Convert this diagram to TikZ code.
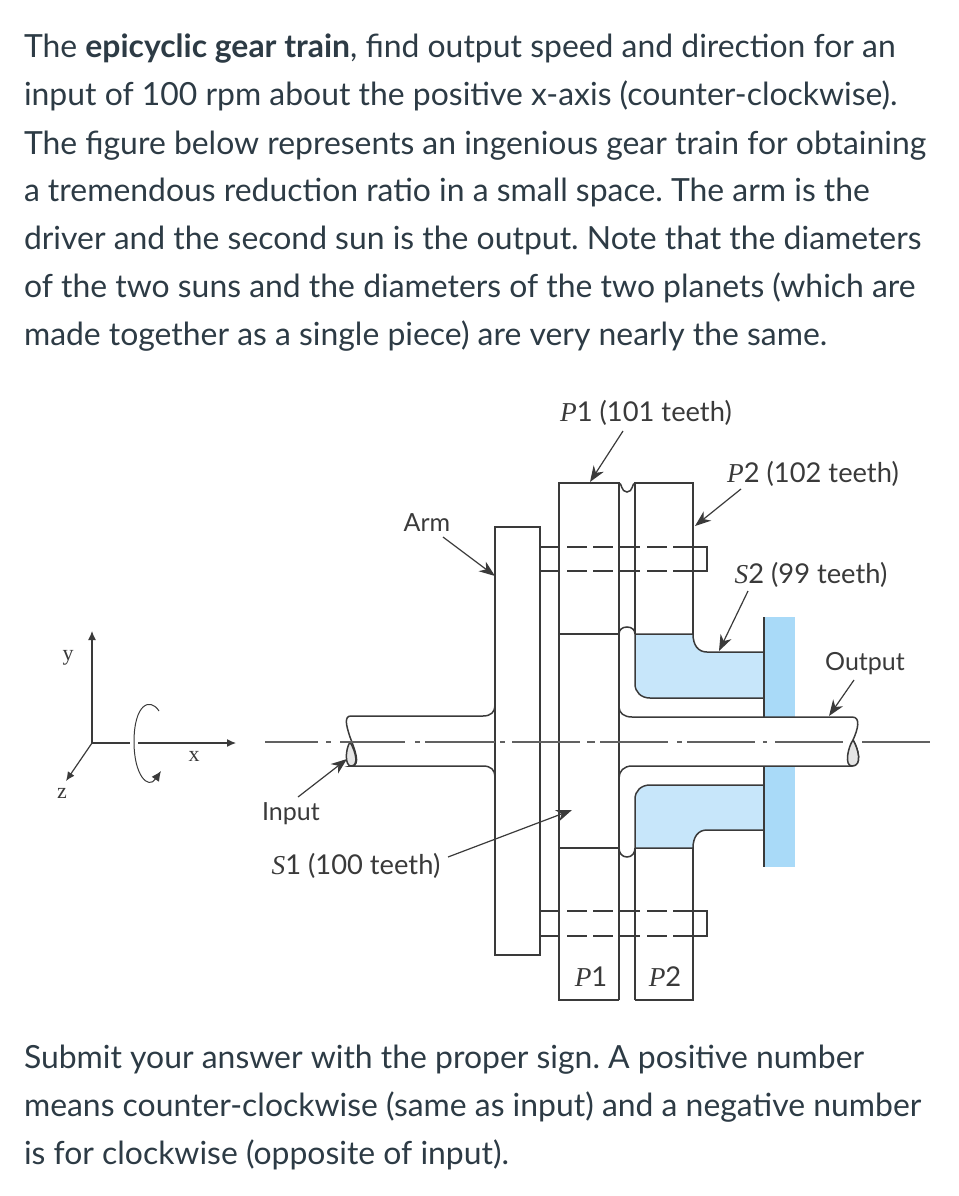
\documentclass[tikz,border=0pt]{standalone}
\usepackage{fontspec}
\setmainfont{Lato}
\newfontfamily\serifaxis{Liberation Serif}
\usetikzlibrary{arrows.meta}
\definecolor{bodytext}{HTML}{2D3B45}
\definecolor{inkline}{HTML}{3A3A3A}
\definecolor{palesun}{HTML}{C7E6FA}
\definecolor{deepsun}{HTML}{A9DAF8}
\newcommand{\gearname}[2]{{\serifaxis\itshape #1}#2}
\frenchspacing
\begin{document}
\begin{tikzpicture}[x=1pt,y=-1pt,
            every node/.style = {inner sep=0pt, outer sep=0pt},
            para/.style = {anchor=base west, text=bodytext, font=\fontsize{31.9}{32}\selectfont},
            tag/.style = {text=inkline, font=\fontsize{25}{25}\selectfont},
            teeth/.style = {text=inkline, font=\fontsize{27.3}{27}\selectfont},
            axisname/.style = {text=inkline, font=\fontsize{22}{22}\serifaxis},
            part/.style = {draw=inkline, line width=1.5pt},
            center/.style = {draw=inkline!80, line width=1.1pt},
            ptr/.style = {draw=inkline, line width=1.2pt, -{Stealth[length=16pt,width=12pt,inset=5pt]}},
            axis/.style = {draw=inkline, line width=1.2pt, -{Latex[length=9pt,width=8pt]}}]
            \useasboundingbox (0,0) rectangle (958,1196);
            \node[para] (lineone) at (24,58) {The \textbf{epicyclic gear train}, find output speed and direction for an};
            \node[para] (linetwo) at (24,106) {input of 100 rpm about the positive x-axis (counter-clockwise).};
            \node[para] (linethree) at (24,154) {The figure below represents an ingenious gear train for obtaining};
            \node[para] (linefour) at (24,201.5) {a tremendous reduction ratio in a small space. The arm is the};
            \node[para] (linefive) at (24,249.5) {driver and the second sun is the output. Note that the diameters};
            \node[para] (linesix) at (24,297.5) {of the two suns and the diameters of the two planets (which are};
            \node[para] (lineseven) at (24,345.5) {made together as a single piece) are very nearly the same.};
            \node[para] (lineeight) at (24,1068.5) {Submit your answer with the proper sign. A positive number};
            \node[para] (linenine) at (24,1116.5) {means counter-clockwise (same as input) and a negative number};
            \node[para] (lineten) at (24,1164.5) {is for clockwise (opposite of input).};
            % output flange and second sun
            \fill[deepsun] (764,617) rectangle (795,717);
            \fill[deepsun] (764,766) rectangle (795,867);
            \path[part, fill=palesun] (635,634) -- (693,634) .. controls (693,645) and (698,652) .. (707,652)
                -- (764,652) -- (764,698) -- (650,698) .. controls (641,698) and (635,692) .. (635,684) -- cycle;
            \path[part, fill=palesun] (635,848) -- (693,848) .. controls (693,837) and (698,830) .. (707,830)
                -- (764,830) -- (764,785) -- (650,785) .. controls (641,785) and (635,791) .. (635,799) -- cycle;
            \draw[part] (764,617) -- (764,717) (764,766) -- (764,867);
            % arm with its pins
            \draw[part] (495,527) rectangle (540,955);
            \draw[part] (540,547) -- (559,547) (540,571) -- (559,571) (540,911) -- (559,911) (540,936) -- (559,936);
            \foreach \piny in {547,571,911,936} {
                \draw[part] (567,\piny) -- (587,\piny) (593,\piny) -- (613,\piny) (619,\piny) -- (640,\piny)
                    (647,\piny) -- (667,\piny) (673,\piny) -- (693,\piny);
            }
            \draw[part] (693,547) -- (707,547) -- (707,571) -- (693,571);
            \draw[part] (693,911) -- (707,911) -- (707,936) -- (693,936);
            % planets
            \draw[part] (619,1000) -- (559,1000) -- (559,483) -- (619,483) -- (619,1000);
            \draw[part] (559,634) -- (619,634) (559,848) -- (619,848);
            \draw[part] (635,1000) -- (693,1000) -- (693,848);
            \draw[part] (635,1000) -- (635,848);
            \draw[part] (693,634) -- (693,483) -- (635,483) -- (635,634);
            \draw[part] (619,483) .. controls (622,483) and (621,492) .. (627,492) .. controls (633,492) and (632,483) .. (635,483);
            \draw[part] (619,634) .. controls (619,630) and (622,627) .. (627,627) .. controls (632,627) and (635,630) .. (635,634);
            \draw[part] (619,848) .. controls (619,853) and (622,857) .. (627,857) .. controls (632,857) and (635,853) .. (635,848);
            % shafts
            \draw[part] (495,705) .. controls (495,712) and (491,716) .. (483,716) -- (351,716)
                .. controls (344,716) and (346,725) .. (350,737) .. controls (354,748) and (362,766) .. (351,766)
                -- (483,766) .. controls (491,766) and (495,770) .. (495,777);
            \path[part, fill=black!10] (350,742) .. controls (345,750) and (345,766) .. (351,766)
                .. controls (359,766) and (356,752) .. (350,742);
            \draw[part] (619,707) .. controls (619,713) and (624,717) .. (632,717) -- (852,717)
                .. controls (861,717) and (858,729) .. (853,740) .. controls (858,748) and (863,766) .. (852,766)
                -- (632,766) .. controls (624,766) and (619,771) .. (619,778);
            \path[part, fill=black!10] (853,740) .. controls (848,747) and (844,766) .. (852,766)
                .. controls (863,766) and (858,748) .. (853,740);
            \foreach \dashfrom/\dashto in {265/318,326/331,340/405,415/420,425/495,500/505,512/580,587/595,600/668,677/682,687/755,763/767,775/843,862/930} {
                \draw[center] (\dashfrom,742) -- (\dashto,742);
            }
            % labels
            \node[teeth] (pone) at (646,412.5) {\gearname{P}{1} (101 teeth)};
            \node[teeth] (ptwo) at (813,473.5) {\gearname{P}{2} (102 teeth)};
            \node[teeth] (stwo) at (811,574.5) {\gearname{S}{2} (99 teeth)};
            \node[tag] (arm) at (427,523) {Arm};
            \node[tag] (output) at (865,664) {Output};
            \node[tag] (input) at (291,814) {Input};
            \node[teeth] (sone) at (356,865.5) {\gearname{S}{1} (100 teeth)};
            \node[teeth] (poneinner) at (591,977) {\gearname{P}{1}};
            \node[teeth] (ptwoinner) at (665,977) {\gearname{P}{2}};
            % arrows
            \coordinate (ponetail) at (623,431);
            \coordinate (ponetip) at (590,482);
            \coordinate (ptwotail) at (741,489);
            \coordinate (ptwotip) at (695,526);
            \coordinate (stwotail) at (748,591);
            \coordinate (stwotip) at (719,651);
            \coordinate (armtail) at (443,537);
            \coordinate (armtip) at (495,576);
            \coordinate (outputtail) at (854,680);
            \coordinate (outputtip) at (829,716);
            \coordinate (inputtail) at (298,797);
            \coordinate (inputtip) at (347,759);
            \coordinate (sonetail) at (448,857);
            \coordinate (sonetip) at (572,810);
            \draw[ptr] (ponetail) -- (ponetip);
            \draw[ptr] (ptwotail) -- (ptwotip);
            \draw[ptr] (stwotail) -- (stwotip);
            \draw[ptr] (armtail) -- (armtip);
            \draw[ptr] (outputtail) -- (outputtip);
            \draw[ptr] (inputtail) -- (inputtip);
            \draw[ptr] (sonetail) -- (sonetip);
            % coordinate axes
            \coordinate (origin) at (92,743);
            \coordinate (ytip) at (92,631);
            \coordinate (xtip) at (236,743);
            \coordinate (ztip) at (66,781);
            \coordinate (xgapleft) at (130,743);
            \coordinate (xgapright) at (138,743);
            \draw[axis] (origin) -- (ytip);
            \draw[axis] (origin) -- (ztip);
            \draw[axis] (xgapright) -- (xtip);
            \draw[draw=inkline, line width=1.2pt] (origin) -- (xgapleft);
            \draw[draw=inkline, line width=1pt, -{Latex[length=10pt,width=9pt]}] (159,711) .. controls (150,697) and (134,704) .. (134,742)
                .. controls (134,775) and (148,790) .. (161,771);
            \node[axisname] (ylabel) at (68,658) {y};
            \node[axisname] (xlabel) at (194,756) {x};
            \node[axisname] (zlabel) at (62,793) {z};
        \end{tikzpicture}
\end{document}
